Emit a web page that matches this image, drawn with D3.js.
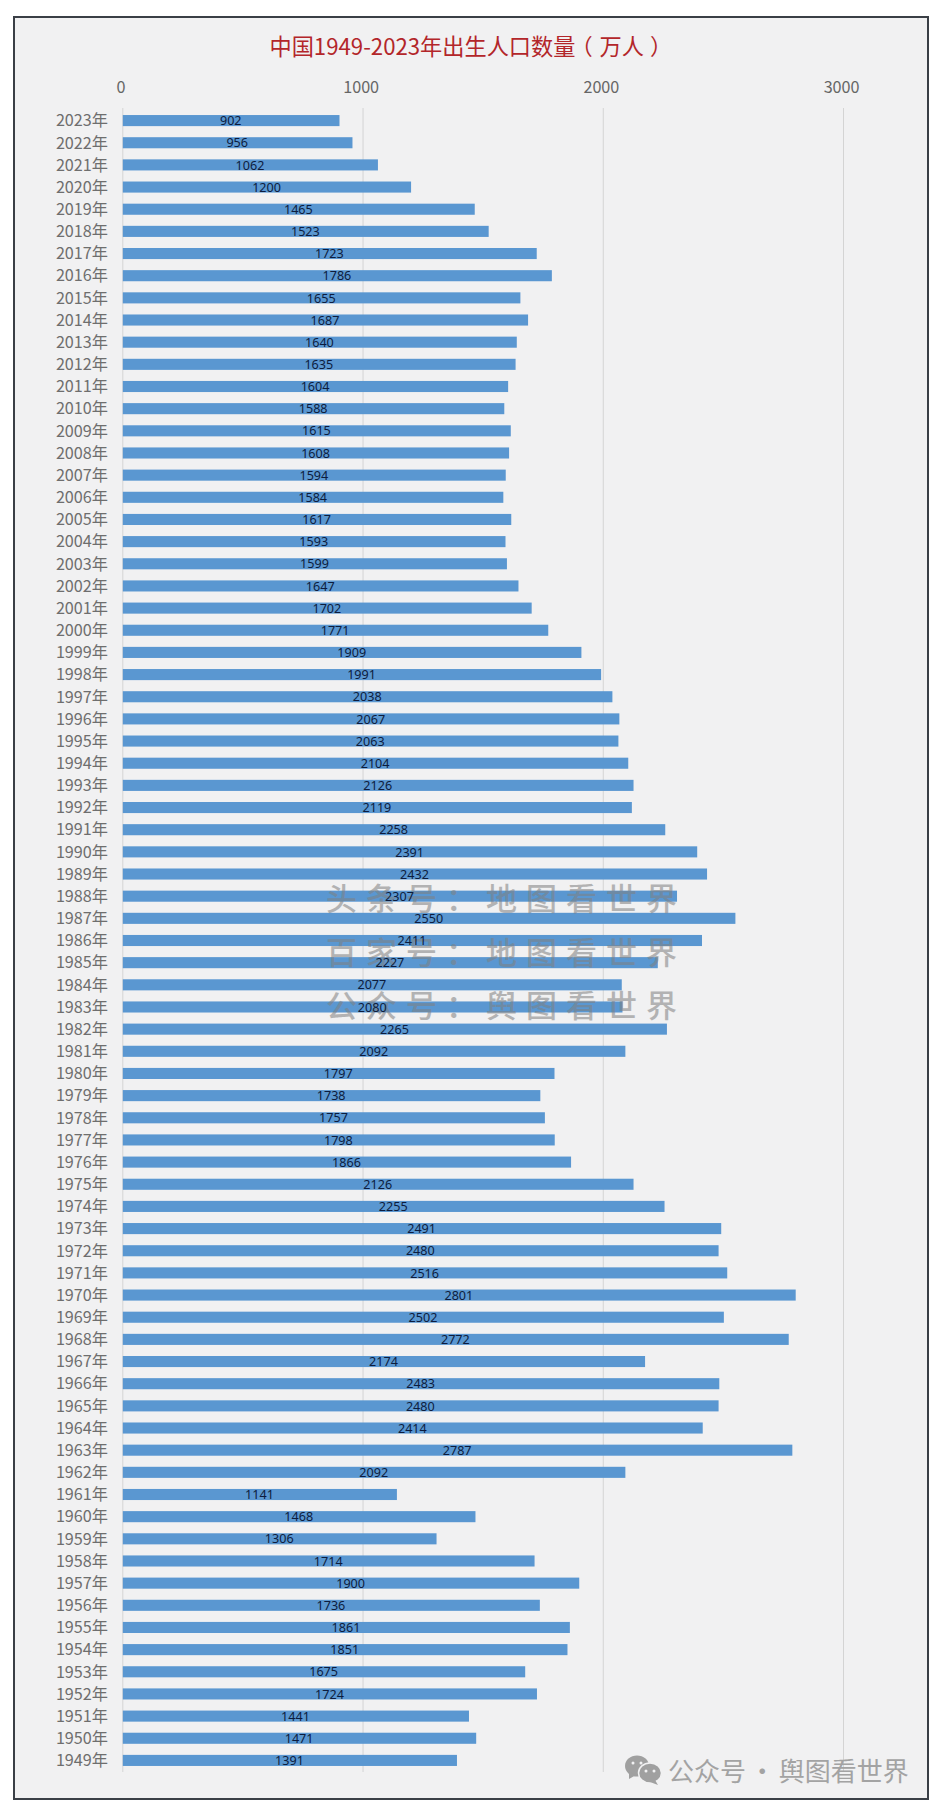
<!doctype html>
<html>
<head>
<meta charset="utf-8">
<script src="https://d3js.org/d3.v7.min.js"></script>
<style>
  body { margin: 0; background: #fff; }
  text { font-family: "Noto Sans CJK SC", "Noto Sans", sans-serif; }
</style>
</head>
<body>
<svg id="chart" width="939" height="1809"></svg>
<script>
const years = ["2023年","2022年","2021年","2020年","2019年","2018年","2017年","2016年","2015年","2014年",
  "2013年","2012年","2011年","2010年","2009年","2008年","2007年","2006年","2005年","2004年",
  "2003年","2002年","2001年","2000年","1999年","1998年","1997年","1996年","1995年","1994年",
  "1993年","1992年","1991年","1990年","1989年","1988年","1987年","1986年","1985年","1984年",
  "1983年","1982年","1981年","1980年","1979年","1978年","1977年","1976年","1975年","1974年",
  "1973年","1972年","1971年","1970年","1969年","1968年","1967年","1966年","1965年","1964年",
  "1963年","1962年","1961年","1960年","1959年","1958年","1957年","1956年","1955年","1954年",
  "1953年","1952年","1951年","1950年","1949年"];
const births = [902,956,1062,1200,1465,1523,1723,1786,1655,1687,
  1640,1635,1604,1588,1615,1608,1594,1584,1617,1593,
  1599,1647,1702,1771,1909,1991,2038,2067,2063,2104,
  2126,2119,2258,2391,2432,2307,2550,2411,2227,2077,
  2080,2265,2092,1797,1738,1757,1798,1866,2126,2255,
  2491,2480,2516,2801,2502,2772,2174,2483,2480,2414,
  2787,2092,1141,1468,1306,1714,1900,1736,1861,1851,
  1675,1724,1441,1471,1391];
const xTicks = [0, 1000, 2000, 3000];
const titleParts = ["中国1949-2023年出生人口数量", "（", "万人", "）"];
const watermarks = ["头条号：地图看世界", "百家号：地图看世界", "公众号：舆图看世界"];
const footer = "公众号 · 舆图看世界";

const svg = d3.select("#chart");

// frame
svg.append("rect")
  .attr("x", 14).attr("y", 17)
  .attr("width", 914).attr("height", 1782)
  .attr("fill", "#f1f1f2")
  .attr("stroke", "#3a3f46")
  .attr("stroke-width", 2);

// title, the brackets are nudged so they sit centred in their cells
let titleText = svg.append("text")
  .attr("x", 269.5).attr("y", 55)
  .attr("font-size", 22.2)
  .attr("fill", "#b3262a");
titleText.selectAll("tspan")
  .data(titleParts)
  .join("tspan")
  .attr("dx", (d, i) => [0, -5, 7, 6][i])
  .text(d => d);

let x = d3.scaleLinear().domain([0, 3000]).range([122.8, 843.5]);
let y = d3.scaleBand().domain(years).range([109.5, 1771.5]).paddingInner(0.5).paddingOuter(0.25);

// gridlines
svg.append("g")
  .selectAll("line")
  .data(xTicks)
  .join("line")
  .attr("x1", d => x(d)).attr("x2", d => x(d))
  .attr("y1", 108).attr("y2", 1772)
  .attr("stroke", "#d4d4d4")
  .attr("stroke-width", 1);

// top axis, labels sit a little left of the gridlines like the original
let xAxis = svg.append("g")
  .attr("transform", "translate(-2.4,93)")
  .call(d3.axisTop(x).tickValues(xTicks).tickSize(0).tickPadding(0).tickFormat(d3.format("d")));
xAxis.select(".domain").remove();
xAxis.selectAll("text").attr("font-size", 16.2).attr("fill", "#666").style("font-family", "'Noto Sans CJK SC'");

let yAxis = svg.append("g")
  .attr("transform", "translate(108,0.6)")
  .call(d3.axisLeft(y).tickSize(0).tickPadding(0));
yAxis.select(".domain").remove();
yAxis.selectAll("text").attr("font-size", 16.2).attr("fill", "#6e6e6e").style("font-family", "'Noto Sans CJK SC'");

// bars
svg.append("g")
  .selectAll("rect")
  .data(births)
  .join("rect")
  .attr("x", x(0))
  .attr("y", (d, i) => y(years[i]))
  .attr("width", d => x(d) - x(0))
  .attr("height", y.bandwidth())
  .attr("fill", "#5a97d1");

// watermark goes over the bars but under the value labels
svg.append("g")
  .selectAll("text")
  .data(watermarks)
  .join("text")
  .attr("x", 326)
  .attr("y", (d, i) => [910, 964, 1017][i])
  .attr("font-size", 31)
  .attr("font-weight", 500)
  .attr("letter-spacing", 9)
  .attr("fill", "#808080")
  .attr("opacity", 0.55)
  .text(d => d);

// value labels, centred in the bar
svg.append("g")
  .selectAll("text")
  .data(births)
  .join("text")
  .attr("x", d => (x(0) + x(d)) / 2 - 0.4)
  .attr("y", (d, i) => y(years[i]) + y.bandwidth() / 2)
  .attr("dy", "0.37em")
  .attr("text-anchor", "middle")
  .attr("font-size", 12.6)
  .attr("fill", "#0c1c3e")
  .style("font-family", "'Noto Sans'")
  .text(d => d);

// wechat icon in the footer
let icon = svg.append("g").attr("transform", "translate(625,1755)").attr("fill", "#a0a0a0");
icon.append("ellipse").attr("cx", 12).attr("cy", 11).attr("rx", 12).attr("ry", 10.5);
icon.append("path").attr("d", "M4 17 L4 24 L11 20 Z");
icon.append("ellipse").attr("cx", 25).attr("cy", 18).attr("rx", 11.5).attr("ry", 10).attr("stroke", "#f1f1f2").attr("stroke-width", 1.5);
icon.append("path").attr("d", "M30 25 L33 30 L25 27 Z");
icon.append("g").attr("fill", "#f1f1f2").selectAll("circle")
  .data([[8, 8, 1.5], [16, 8, 1.5], [21, 16, 1.5], [29, 16, 1.5]])
  .join("circle")
  .attr("cx", d => d[0]).attr("cy", d => d[1]).attr("r", d => d[2]);

svg.append("text")
  .attr("x", 668).attr("y", 1781)
  .attr("font-size", 26)
  .attr("word-spacing", -2.5)
  .attr("fill", "#a3a3a3")
  .text(footer);
</script>
</body>
</html>
